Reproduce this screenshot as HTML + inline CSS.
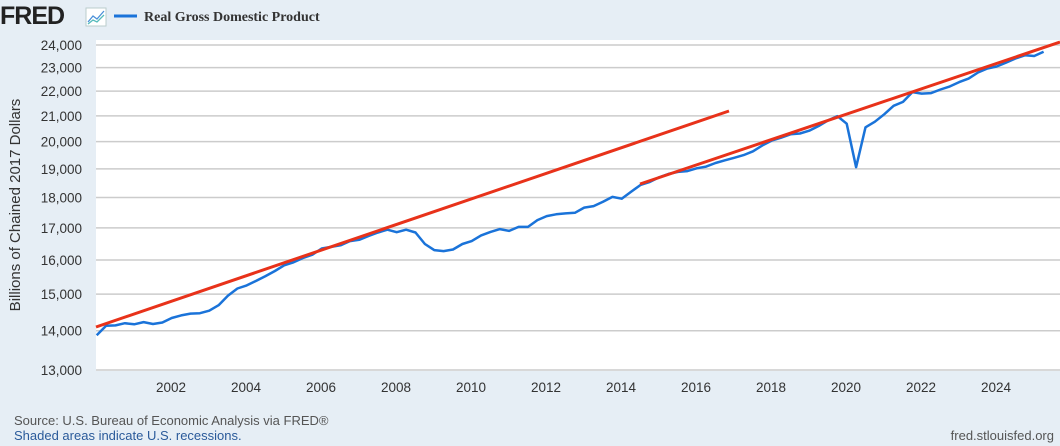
<!DOCTYPE html>
<html><head><meta charset="utf-8"><style>
html,body{margin:0;padding:0;width:1060px;height:446px;overflow:hidden;background:#e6eef5;font-family:"Liberation Sans",sans-serif}
</style></head><body>
<svg id="s" width="1060" height="446" xmlns="http://www.w3.org/2000/svg" style="position:absolute;left:0;top:0">
<rect x="96" y="40" width="964" height="331" fill="#fff"/>
<text x="0" y="24" font-family="Liberation Sans" font-weight="bold" font-size="25" fill="#222" letter-spacing="-1">FRED</text>
<rect x="86" y="8" width="20" height="18" fill="#fff" stroke="#bcc"/>
<polyline points="88,22 93,16 97,19 104,11" fill="none" stroke="#4a90d9" stroke-width="1.3"/>
<polyline points="88,24 93,20 97,22 104,15" fill="none" stroke="#5bb" stroke-width="1.3"/>
<line x1="114" y1="16" x2="137" y2="16" stroke="#1a73d9" stroke-width="3"/>
<text x="144" y="21" font-family="Liberation Serif" font-weight="bold" font-size="14" fill="#333">Real Gross Domestic Product</text>
<g id="grid"></g>
<text transform="translate(20,205) rotate(-90)" text-anchor="middle" font-size="15" fill="#333">Billions of Chained 2017 Dollars</text>
<g id="xl"></g>
<polyline id="gdp" fill="none" stroke="#1a73d9" stroke-width="2.5" stroke-linejoin="round"/>
<line x1="96" y1="327" x2="729" y2="111" stroke="#e8321a" stroke-width="3"/>
<line x1="640" y1="184" x2="1060" y2="42" stroke="#e8321a" stroke-width="3"/>
<text x="14" y="425" font-size="13" fill="#555">Source: U.S. Bureau of Economic Analysis via FRED®</text>
<text x="14" y="440" font-size="13" fill="#2a5a9a">Shaded areas indicate U.S. recessions.</text>
<text x="1054" y="440" text-anchor="end" font-size="13" fill="#555">fred.stlouisfed.org</text>
</svg>
<script>
var NS="http://www.w3.org/2000/svg";
function Y(v){return 370-530*Math.log(v/13000);}
function X(t){return 171+37.5*(t-2002);}
var g=document.getElementById('grid');
for(var v=13000;v<=24000;v+=1000){
 var y=Y(v);
 if(v>13000){var l=document.createElementNS(NS,'line');l.setAttribute('x1',96);l.setAttribute('x2',1060);l.setAttribute('y1',y);l.setAttribute('y2',y);l.setAttribute('stroke','#ccc');l.setAttribute('stroke-width','1.5');g.appendChild(l);}
 var t=document.createElementNS(NS,'text');t.setAttribute('x',82);t.setAttribute('y',y+5);t.setAttribute('text-anchor','end');t.setAttribute('font-size','13.5');t.setAttribute('fill','#333');
 t.textContent=(v/1000)+',000';g.appendChild(t);
}
var bl=document.createElementNS(NS,'line');bl.setAttribute('x1',96);bl.setAttribute('x2',1060);bl.setAttribute('y1',370);bl.setAttribute('y2',370);bl.setAttribute('stroke','#ccc');bl.setAttribute('stroke-width','1.5');g.appendChild(bl);
var xl=document.getElementById('xl');
for(var yr=2002;yr<=2024;yr+=2){
 var t=document.createElementNS(NS,'text');t.setAttribute('x',X(yr));t.setAttribute('y',392);t.setAttribute('text-anchor','middle');t.setAttribute('font-size','13.5');t.setAttribute('fill','#333');t.textContent=yr;xl.appendChild(t);
}
var d=[13880,14130,14140,14200,14170,14230,14180,14220,14340,14410,14460,14470,14540,14690,14960,15160,15250,15380,15520,15670,15840,15930,16060,16160,16350,16400,16450,16580,16620,16740,16850,16940,16860,16940,16850,16490,16300,16270,16320,16490,16580,16760,16870,16960,16900,17030,17030,17250,17380,17440,17470,17490,17660,17710,17860,18020,17960,18200,18430,18540,18700,18820,18890,18920,19020,19080,19210,19310,19400,19500,19640,19860,20040,20150,20280,20310,20420,20600,20820,20990,20690,19060,20550,20770,21060,21400,21560,21960,21900,21920,22070,22200,22380,22530,22790,22960,23050,23220,23400,23540,23510,23700];
var p=[];for(var i=0;i<d.length;i++){p.push(X(2000+i*0.25+0.02).toFixed(1)+','+Y(d[i]).toFixed(1));}
document.getElementById('gdp').setAttribute('points',p.join(' '));
</script>
</body></html>
